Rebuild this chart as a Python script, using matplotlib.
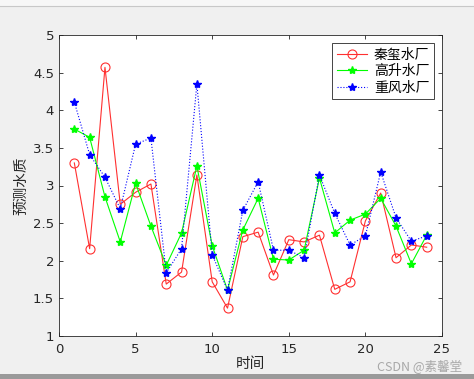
import numpy as np
import matplotlib.pyplot as plt
from matplotlib.patches import Rectangle

plt.rcParams['font.family'] = ['DejaVu Sans', 'Noto Sans CJK SC']

t = np.arange(1, 25)
qinxi = [3.30, 2.16, 4.57, 2.75, 2.91, 3.02, 1.69, 1.85, 3.14, 1.72, 1.37, 2.32,
         2.38, 1.81, 2.28, 2.25, 2.34, 1.62, 1.72, 2.53, 2.90, 2.04, 2.21, 2.18]
gaosheng = [3.75, 3.64, 2.85, 2.25, 3.03, 2.46, 1.94, 2.37, 3.26, 2.20, 1.61, 2.41,
            2.83, 2.02, 2.01, 2.14, 3.10, 2.37, 2.54, 2.62, 2.83, 2.46, 1.96, 2.34]
chongfeng = [4.11, 3.41, 3.11, 2.69, 3.55, 3.63, 1.84, 2.16, 4.35, 2.08, 1.61, 2.67,
             3.05, 2.14, 2.14, 2.04, 3.14, 2.63, 2.21, 2.33, 3.18, 2.57, 2.26, 2.33]
names = ['秦玺水厂', '高升水厂', '重风水厂']

cjk = ['Noto Sans CJK SC', 'DejaVu Sans']

fig = plt.figure(figsize=(4.74, 3.79), dpi=100)
fig.patch.set_facecolor('#f0f0f0')

# window chrome: toolbar edge on top, dark strip at the bottom
fig.add_artist(Rectangle((0, 1 - 6/379), 1, 6/379, transform=fig.transFigure,
                         facecolor='#f7f7f7', edgecolor='none'))
fig.add_artist(plt.Line2D([0, 1], [1 - 6/379, 1 - 6/379], transform=fig.transFigure,
                          color='#c8c8c8', lw=0.8))
fig.add_artist(Rectangle((0, 0), 1, 5/379, transform=fig.transFigure,
                         facecolor='#9a9a9a', edgecolor='none'))

ax = fig.add_axes([59/474, 1 - 336/379, (442-59)/474, (336-35)/379])

ax.plot(t, qinxi, '-o', color='#ff3030', lw=0.8, ms=6.5, mfc='none', mew=0.8, label=names[0])
ax.plot(t, gaosheng, '-*', color='#00ff00', lw=0.8, ms=6, label=names[1])
ax.plot(t, chongfeng, ':*', color='blue', lw=0.8, ms=6, label=names[2])

ax.set_xlim(0, 25)
ax.set_ylim(1, 5)
ax.set_xticks(np.arange(0, 26, 5))
ax.set_yticks(np.arange(1, 5.01, 0.5))
ax.set_yticklabels(['1', '1.5', '2', '2.5', '3', '3.5', '4', '4.5', '5'])
ax.tick_params(direction='in', top=True, right=True, labelsize=9.5, length=3,
               color='#262626', labelcolor='#262626', width=0.6)
ax.tick_params(axis='x', pad=5)
for s in ax.spines.values():
    s.set_color('#262626')
    s.set_linewidth(0.6)

ax.set_xlabel('时间', family=cjk, fontsize=10.5, color='#262626', labelpad=1)
ax.set_ylabel('预测水质', family=cjk, fontsize=10.5, color='#262626', labelpad=3)

leg = ax.legend(loc='upper right', prop={'family': cjk, 'size': 10},
                fancybox=False, edgecolor='#262626', framealpha=1,
                borderpad=0.3, labelspacing=0.2, handlelength=2.2,
                handletextpad=0.5, borderaxespad=0.6)
leg.get_frame().set_linewidth(0.6)

fig.text(0.975, 0.035, 'CSDN @素馨堂', family=cjk, fontsize=9, color='#a8a8a8',
         ha='right', va='center')

fig.savefig('out.png', dpi=100, facecolor=fig.get_facecolor())
